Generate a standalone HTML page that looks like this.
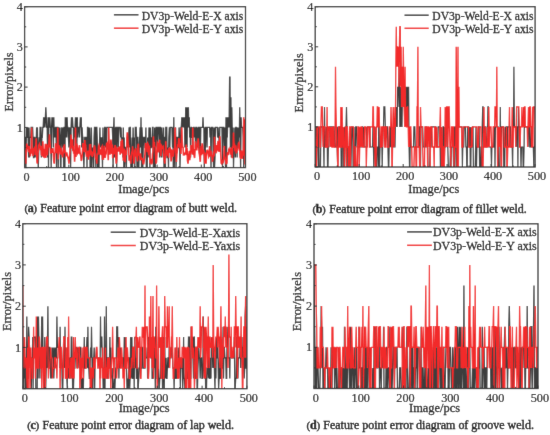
<!DOCTYPE html>
<html><head><meta charset="utf-8"><style>
html,body{margin:0;padding:0;background:#fff;width:550px;height:435px;overflow:hidden}
svg{display:block}
text{font-family:"Liberation Serif", "Times New Roman", serif;fill:#151515;stroke:#151515;stroke-width:0.28px}
.tk{font-size:12.2px;stroke-width:0.18px;fill:#111;stroke:#111}
.lg{font-size:11.7px}
.lgb{font-size:12.2px}
.lgd{font-size:12px}
.lab{font-size:12.4px}
.cap{font-size:12px;fill:#111;stroke:#111;stroke-width:0.4px}
</style></head><body>
<svg width="550" height="435" viewBox="0 0 550 435">
<filter id="soft" x="0" y="0" width="550" height="435" filterUnits="userSpaceOnUse"><feConvolveMatrix order="3" kernelMatrix="0.0049 0.0602 0.0049 0.0602 0.7396 0.0602 0.0049 0.0602 0.0049" divisor="1" edgeMode="duplicate" preserveAlpha="false"/></filter>
<g filter="url(#soft)"><rect width="550" height="435" fill="#fff"/>
<clipPath id="clipa"><rect x="24.6" y="5.7" width="220.9" height="161.9"/></clipPath>
<g clip-path="url(#clipa)" fill="none" stroke-linejoin="miter">
<polyline stroke="#3d3d3d" stroke-width="1.3" points="24.6,137.4 25.0,137.4 25.5,157.5 25.9,167.6 26.4,127.4 26.8,137.4 27.3,137.4 27.7,127.4 28.1,137.4 28.6,157.5 29.0,127.4 29.5,157.5 29.9,137.4 30.4,137.4 30.8,137.4 31.2,127.4 31.7,127.4 32.1,127.4 32.6,127.4 33.0,137.4 33.5,157.5 33.9,157.5 34.3,137.4 34.8,137.4 35.2,157.5 35.7,137.4 36.1,147.5 36.6,127.4 37.0,137.4 37.4,127.4 37.9,157.5 38.3,167.6 38.8,147.5 39.2,137.4 39.7,147.5 40.1,127.4 40.5,127.4 41.0,127.4 41.4,157.5 41.9,137.4 42.3,137.4 42.8,127.4 43.2,127.4 43.6,117.3 44.1,127.4 44.5,117.3 45.0,127.4 45.4,117.3 45.8,107.3 46.3,117.3 46.7,127.4 47.2,127.4 47.6,157.5 48.1,117.3 48.5,167.6 48.9,117.3 49.4,127.4 49.8,117.3 50.3,127.4 50.7,127.4 51.2,167.6 51.6,127.4 52.0,117.3 52.5,127.4 52.9,117.3 53.4,147.5 53.8,117.3 54.3,137.4 54.7,127.4 55.1,137.4 55.6,127.4 56.0,127.4 56.5,167.6 56.9,127.4 57.4,127.4 57.8,127.4 58.2,167.6 58.7,137.4 59.1,127.4 59.6,147.5 60.0,127.4 60.5,167.6 60.9,167.6 61.3,137.4 61.8,127.4 62.2,137.4 62.7,147.5 63.1,127.4 63.6,167.6 64.0,127.4 64.4,127.4 64.9,167.6 65.3,117.3 65.8,137.4 66.2,117.3 66.7,137.4 67.1,117.3 67.5,127.4 68.0,127.4 68.4,137.4 68.9,147.5 69.3,127.4 69.8,137.4 70.2,127.4 70.6,167.6 71.1,127.4 71.5,117.3 72.0,127.4 72.4,117.3 72.9,127.4 73.3,127.4 73.7,147.5 74.2,127.4 74.6,137.4 75.1,127.4 75.5,117.3 76.0,127.4 76.4,117.3 76.8,147.5 77.3,117.3 77.7,137.4 78.2,127.4 78.6,127.4 79.1,127.4 79.5,137.4 79.9,127.4 80.4,117.3 80.8,127.4 81.3,117.3 81.7,147.5 82.1,127.4 82.6,137.4 83.0,137.4 83.5,157.5 83.9,167.6 84.4,147.5 84.8,137.4 85.2,137.4 85.7,147.5 86.1,137.4 86.6,137.4 87.0,167.6 87.5,127.4 87.9,127.4 88.3,157.5 88.8,127.4 89.2,147.5 89.7,127.4 90.1,167.6 90.6,167.6 91.0,147.5 91.4,127.4 91.9,167.6 92.3,147.5 92.8,157.5 93.2,147.5 93.7,167.6 94.1,137.4 94.5,127.4 95.0,127.4 95.4,147.5 95.9,167.6 96.3,127.4 96.8,127.4 97.2,137.4 97.6,167.6 98.1,147.5 98.5,157.5 99.0,167.6 99.4,147.5 99.9,127.4 100.3,147.5 100.7,137.4 101.2,147.5 101.6,137.4 102.1,147.5 102.5,167.6 103.0,127.4 103.4,157.5 103.8,147.5 104.3,157.5 104.7,127.4 105.2,127.4 105.6,147.5 106.1,127.4 106.5,147.5 106.9,127.4 107.4,127.4 107.8,127.4 108.3,127.4 108.7,127.4 109.2,127.4 109.6,127.4 110.0,127.4 110.5,127.4 110.9,127.4 111.4,127.4 111.8,127.4 112.3,127.4 112.7,137.4 113.1,167.6 113.6,127.4 114.0,117.3 114.5,157.5 114.9,127.4 115.4,157.5 115.8,127.4 116.2,127.4 116.7,167.6 117.1,127.4 117.6,127.4 118.0,127.4 118.4,147.5 118.9,127.4 119.3,127.4 119.8,127.4 120.2,127.4 120.7,137.4 121.1,127.4 121.5,147.5 122.0,137.4 122.4,147.5 122.9,157.5 123.3,127.4 123.8,167.6 124.2,137.4 124.6,167.6 125.1,147.5 125.5,147.5 126.0,157.5 126.4,167.6 126.9,137.4 127.3,147.5 127.7,137.4 128.2,147.5 128.6,137.4 129.1,127.4 129.5,147.5 130.0,127.4 130.4,127.4 130.8,167.6 131.3,167.6 131.7,157.5 132.2,137.4 132.6,167.6 133.1,127.4 133.5,157.5 133.9,147.5 134.4,137.4 134.8,167.6 135.3,127.4 135.7,127.4 136.2,127.4 136.6,137.4 137.0,167.6 137.5,137.4 137.9,137.4 138.4,167.6 138.8,167.6 139.3,147.5 139.7,137.4 140.1,127.4 140.6,147.5 141.0,117.3 141.5,167.6 141.9,127.4 142.4,137.4 142.8,167.6 143.2,147.5 143.7,137.4 144.1,137.4 144.6,137.4 145.0,147.5 145.5,147.5 145.9,127.4 146.3,167.6 146.8,157.5 147.2,167.6 147.7,137.4 148.1,157.5 148.6,147.5 149.0,127.4 149.4,137.4 149.9,167.6 150.3,127.4 150.8,147.5 151.2,147.5 151.7,137.4 152.1,147.5 152.5,127.4 153.0,127.4 153.4,167.6 153.9,167.6 154.3,147.5 154.7,127.4 155.2,167.6 155.6,157.5 156.1,127.4 156.5,127.4 157.0,127.4 157.4,147.5 157.8,137.4 158.3,127.4 158.7,127.4 159.2,127.4 159.6,157.5 160.1,127.4 160.5,127.4 160.9,137.4 161.4,157.5 161.8,127.4 162.3,137.4 162.7,147.5 163.2,157.5 163.6,127.4 164.0,167.6 164.5,137.4 164.9,137.4 165.4,167.6 165.8,127.4 166.3,127.4 166.7,127.4 167.1,157.5 167.6,157.5 168.0,147.5 168.5,167.6 168.9,137.4 169.4,127.4 169.8,147.5 170.2,127.4 170.7,127.4 171.1,127.4 171.6,127.4 172.0,127.4 172.5,147.5 172.9,127.4 173.3,167.6 173.8,117.3 174.2,167.6 174.7,147.5 175.1,147.5 175.6,127.4 176.0,167.6 176.4,157.5 176.9,137.4 177.3,137.4 177.8,137.4 178.2,147.5 178.7,147.5 179.1,127.4 179.5,137.4 180.0,167.6 180.4,147.5 180.9,127.4 181.3,127.4 181.8,117.3 182.2,127.4 182.6,117.3 183.1,127.4 183.5,117.3 184.0,127.4 184.4,117.3 184.9,147.5 185.3,137.4 185.7,107.3 186.2,147.5 186.6,107.3 187.1,147.5 187.5,107.3 188.0,127.4 188.4,107.3 188.8,127.4 189.3,117.3 189.7,137.4 190.2,127.4 190.6,157.5 191.0,127.4 191.5,127.4 191.9,137.4 192.4,137.4 192.8,127.4 193.3,137.4 193.7,127.4 194.1,127.4 194.6,137.4 195.0,127.4 195.5,147.5 195.9,127.4 196.4,127.4 196.8,127.4 197.2,147.5 197.7,127.4 198.1,147.5 198.6,127.4 199.0,127.4 199.5,127.4 199.9,157.5 200.3,157.5 200.8,127.4 201.2,127.4 201.7,127.4 202.1,127.4 202.6,127.4 203.0,117.3 203.4,127.4 203.9,127.4 204.3,167.6 204.8,127.4 205.2,157.5 205.7,127.4 206.1,127.4 206.5,127.4 207.0,147.5 207.4,127.4 207.9,127.4 208.3,127.4 208.8,127.4 209.2,127.4 209.6,127.4 210.1,137.4 210.5,127.4 211.0,167.6 211.4,127.4 211.9,127.4 212.3,127.4 212.7,127.4 213.2,157.5 213.6,167.6 214.1,127.4 214.5,167.6 215.0,157.5 215.4,127.4 215.8,127.4 216.3,127.4 216.7,127.4 217.2,127.4 217.6,137.4 218.1,127.4 218.5,137.4 218.9,137.4 219.4,147.5 219.8,127.4 220.3,127.4 220.7,127.4 221.2,127.4 221.6,127.4 222.0,127.4 222.5,167.6 222.9,127.4 223.4,127.4 223.8,127.4 224.3,147.5 224.7,127.4 225.1,157.5 225.6,167.6 226.0,117.3 226.5,167.6 226.9,117.3 227.3,137.4 227.8,117.3 228.2,127.4 228.7,117.3 229.1,127.4 229.6,77.1 230.0,77.1 230.4,147.5 230.9,97.2 231.3,157.5 231.8,107.3 232.2,127.4 232.7,147.5 233.1,127.4 233.5,167.6 234.0,147.5 234.4,147.5 234.9,127.4 235.3,157.5 235.8,127.4 236.2,127.4 236.6,137.4 237.1,157.5 237.5,127.4 238.0,137.4 238.4,147.5 238.9,127.4 239.3,137.4 239.7,107.3 240.2,137.4 240.6,167.6 241.1,117.3 241.5,127.4 242.0,127.4 242.4,127.4 242.8,127.4 243.3,137.4 243.7,167.6 244.2,127.4 244.6,137.4 245.1,147.5 245.5,127.4"/>
<polyline stroke="#f22c2c" stroke-width="1.6" points="24.6,149.9 25.0,153.4 25.5,154.6 25.9,163.6 26.4,148.7 26.8,143.5 27.3,149.1 27.7,145.8 28.1,146.9 28.6,152.1 29.0,146.1 29.5,150.4 29.9,152.6 30.4,156.3 30.8,151.1 31.2,151.7 31.7,127.4 32.1,153.1 32.6,151.4 33.0,156.2 33.5,149.0 33.9,149.0 34.3,148.2 34.8,147.4 35.2,154.9 35.7,148.6 36.1,138.4 36.6,153.9 37.0,162.1 37.4,163.6 37.9,153.4 38.3,151.5 38.8,145.3 39.2,144.2 39.7,146.5 40.1,147.2 40.5,150.1 41.0,145.8 41.4,154.7 41.9,155.3 42.3,151.8 42.8,141.4 43.2,150.5 43.6,156.8 44.1,157.1 44.5,148.7 45.0,151.2 45.4,143.8 45.8,157.9 46.3,148.2 46.7,143.9 47.2,155.4 47.6,152.4 48.1,145.0 48.5,147.6 48.9,143.8 49.4,134.2 49.8,141.1 50.3,147.7 50.7,153.7 51.2,148.8 51.6,151.0 52.0,152.1 52.5,152.2 52.9,148.0 53.4,155.5 53.8,161.8 54.3,163.6 54.7,153.9 55.1,152.1 55.6,143.2 56.0,147.2 56.5,153.3 56.9,149.5 57.4,150.7 57.8,127.4 58.2,159.4 58.7,145.4 59.1,146.3 59.6,146.4 60.0,150.3 60.5,154.5 60.9,147.9 61.3,150.1 61.8,154.8 62.2,153.7 62.7,157.5 63.1,153.2 63.6,145.9 64.0,153.1 64.4,144.2 64.9,151.4 65.3,150.4 65.8,155.4 66.2,154.5 66.7,152.5 67.1,154.2 67.5,156.6 68.0,157.6 68.4,158.9 68.9,163.6 69.3,158.9 69.8,152.8 70.2,146.9 70.6,145.4 71.1,134.6 71.5,141.1 72.0,148.6 72.4,139.4 72.9,151.1 73.3,145.7 73.7,153.7 74.2,150.4 74.6,161.7 75.1,151.4 75.5,127.4 76.0,157.0 76.4,144.7 76.8,143.6 77.3,147.1 77.7,153.3 78.2,152.4 78.6,152.7 79.1,147.9 79.5,145.0 79.9,151.8 80.4,154.5 80.8,155.8 81.3,161.0 81.7,159.3 82.1,155.7 82.6,149.6 83.0,143.0 83.5,151.5 83.9,148.3 84.4,152.2 84.8,140.1 85.2,145.9 85.7,145.7 86.1,153.6 86.6,156.9 87.0,152.9 87.5,154.1 87.9,150.6 88.3,159.6 88.8,151.7 89.2,156.4 89.7,144.2 90.1,149.2 90.6,144.1 91.0,155.4 91.4,150.8 91.9,155.9 92.3,156.2 92.8,153.5 93.2,154.1 93.7,151.1 94.1,146.9 94.5,145.4 95.0,148.7 95.4,157.5 95.9,158.8 96.3,156.0 96.8,163.6 97.2,154.1 97.6,153.9 98.1,153.9 98.5,147.2 99.0,145.4 99.4,147.0 99.9,154.7 100.3,151.2 100.7,149.2 101.2,155.1 101.6,147.3 102.1,146.4 102.5,159.7 103.0,154.7 103.4,160.0 103.8,149.2 104.3,145.7 104.7,154.5 105.2,157.8 105.6,153.9 106.1,153.8 106.5,144.0 106.9,143.4 107.4,148.8 107.8,146.8 108.3,160.3 108.7,127.4 109.2,147.7 109.6,150.4 110.0,154.7 110.5,149.8 110.9,139.5 111.4,144.2 111.8,153.9 112.3,144.4 112.7,158.2 113.1,151.9 113.6,154.7 114.0,147.7 114.5,154.2 114.9,145.3 115.4,146.5 115.8,158.4 116.2,163.6 116.7,160.2 117.1,148.4 117.6,149.1 118.0,149.7 118.4,151.7 118.9,147.3 119.3,147.1 119.8,147.5 120.2,154.8 120.7,146.3 121.1,141.1 121.5,153.4 122.0,139.4 122.4,141.2 122.9,148.9 123.3,160.6 123.8,152.2 124.2,148.5 124.6,153.1 125.1,162.1 125.5,150.3 126.0,154.0 126.4,155.2 126.9,137.3 127.3,132.3 127.7,136.4 128.2,146.3 128.6,145.1 129.1,160.8 129.5,155.4 130.0,157.5 130.4,161.5 130.8,163.6 131.3,155.2 131.7,152.6 132.2,151.0 132.6,146.4 133.1,153.4 133.5,159.2 133.9,163.6 134.4,159.9 134.8,151.3 135.3,152.0 135.7,148.0 136.2,156.1 136.6,156.2 137.0,157.9 137.5,161.5 137.9,145.9 138.4,143.8 138.8,151.7 139.3,155.7 139.7,153.7 140.1,160.4 140.6,153.3 141.0,159.4 141.5,157.3 141.9,159.9 142.4,158.2 142.8,162.1 143.2,163.6 143.7,163.6 144.1,161.2 144.6,157.8 145.0,154.1 145.5,144.1 145.9,143.1 146.3,148.5 146.8,145.8 147.2,152.3 147.7,143.6 148.1,144.3 148.6,155.3 149.0,149.0 149.4,145.5 149.9,163.3 150.3,161.4 150.8,158.9 151.2,163.6 151.7,163.6 152.1,163.0 152.5,154.2 153.0,151.0 153.4,136.4 153.9,146.0 154.3,142.1 154.7,146.2 155.2,147.1 155.6,155.6 156.1,163.6 156.5,161.8 157.0,152.2 157.4,142.8 157.8,143.6 158.3,144.6 158.7,152.5 159.2,143.3 159.6,139.7 160.1,148.4 160.5,150.0 160.9,156.1 161.4,145.4 161.8,146.0 162.3,149.1 162.7,147.8 163.2,147.0 163.6,151.4 164.0,158.2 164.5,161.8 164.9,163.6 165.4,156.1 165.8,141.2 166.3,155.6 166.7,152.6 167.1,149.6 167.6,155.8 168.0,152.3 168.5,157.8 168.9,147.8 169.4,152.8 169.8,151.4 170.2,147.4 170.7,151.7 171.1,161.4 171.6,159.2 172.0,150.9 172.5,151.5 172.9,150.0 173.3,156.6 173.8,153.0 174.2,148.0 174.7,149.4 175.1,127.4 175.6,146.5 176.0,154.6 176.4,161.9 176.9,150.1 177.3,150.9 177.8,145.4 178.2,145.7 178.7,139.3 179.1,138.2 179.5,146.7 180.0,147.4 180.4,143.2 180.9,154.0 181.3,144.5 181.8,127.4 182.2,140.6 182.6,147.0 183.1,147.4 183.5,155.5 184.0,153.0 184.4,155.3 184.9,152.7 185.3,154.7 185.7,151.3 186.2,144.6 186.6,155.2 187.1,148.0 187.5,160.6 188.0,163.6 188.4,160.2 188.8,155.6 189.3,150.9 189.7,160.2 190.2,156.0 190.6,152.8 191.0,145.0 191.5,148.6 191.9,146.9 192.4,154.5 192.8,127.4 193.3,155.0 193.7,149.1 194.1,155.6 194.6,158.0 195.0,151.4 195.5,141.3 195.9,144.0 196.4,145.9 196.8,150.4 197.2,144.7 197.7,144.9 198.1,138.3 198.6,142.9 199.0,152.3 199.5,154.9 199.9,158.5 200.3,161.8 200.8,149.4 201.2,145.8 201.7,155.3 202.1,143.3 202.6,145.8 203.0,153.8 203.4,150.3 203.9,151.1 204.3,155.4 204.8,163.6 205.2,157.4 205.7,152.6 206.1,163.6 206.5,155.6 207.0,149.9 207.4,153.1 207.9,151.5 208.3,152.9 208.8,156.7 209.2,155.9 209.6,146.0 210.1,156.6 210.5,152.5 211.0,150.8 211.4,154.9 211.9,155.5 212.3,161.1 212.7,160.8 213.2,155.9 213.6,151.7 214.1,156.4 214.5,136.7 215.0,147.1 215.4,148.4 215.8,151.0 216.3,153.3 216.7,145.0 217.2,150.7 217.6,143.5 218.1,140.9 218.5,151.8 218.9,145.7 219.4,152.0 219.8,136.3 220.3,145.9 220.7,153.7 221.2,163.1 221.6,163.6 222.0,160.9 222.5,161.6 222.9,163.2 223.4,161.0 223.8,157.2 224.3,146.1 224.7,158.1 225.1,157.7 225.6,159.7 226.0,163.6 226.5,163.6 226.9,162.9 227.3,153.0 227.8,153.1 228.2,155.1 228.7,149.7 229.1,148.8 229.6,151.2 230.0,149.0 230.4,154.7 230.9,149.4 231.3,147.7 231.8,151.7 232.2,158.2 232.7,146.2 233.1,148.1 233.5,132.6 234.0,145.5 234.4,143.5 234.9,149.7 235.3,149.0 235.8,145.4 236.2,152.7 236.6,152.5 237.1,150.9 237.5,150.4 238.0,147.4 238.4,143.5 238.9,142.7 239.3,145.4 239.7,150.2 240.2,157.0 240.6,158.1 241.1,157.6 241.5,150.5 242.0,152.8 242.4,158.9 242.8,151.5 243.3,155.8 243.7,117.3 244.2,155.7 244.6,119.3 245.1,163.6 245.5,163.6"/>
</g>
<rect x="24.6" y="6.7" width="220.9" height="160.9" fill="none" stroke="#333" stroke-width="1.3"/>
<path d="M24.6,167.6h3M24.6,147.5h1.6M24.6,127.4h3M24.6,107.3h1.6M24.6,87.1h3M24.6,67.0h1.6M24.6,46.9h3M24.6,26.8h1.6M24.6,6.7h3M24.6,167.6v-3M46.7,167.6v-1.6M68.8,167.6v-3M90.9,167.6v-1.6M113.0,167.6v-3M135.1,167.6v-1.6M157.1,167.6v-3M179.2,167.6v-1.6M201.3,167.6v-3M223.4,167.6v-1.6M245.5,167.6v-3" stroke="#333" stroke-width="1" fill="none"/>
<text x="22.8" y="131.5" text-anchor="end" class="tk">1</text>
<text x="22.8" y="91.2" text-anchor="end" class="tk">2</text>
<text x="22.8" y="51.0" text-anchor="end" class="tk">3</text>
<text x="22.8" y="10.8" text-anchor="end" class="tk">4</text>
<text x="26.5" y="180.9" text-anchor="middle" class="tk">0</text>
<text x="70.7" y="180.9" text-anchor="middle" class="tk">100</text>
<text x="114.9" y="180.9" text-anchor="middle" class="tk">200</text>
<text x="159.0" y="180.9" text-anchor="middle" class="tk">300</text>
<text x="203.2" y="180.9" text-anchor="middle" class="tk">400</text>
<text x="247.4" y="180.9" text-anchor="middle" class="tk">500</text>
<path d="M113.9,14.8H138.5" stroke="#3d3d3d" stroke-width="1.5"/>
<path d="M113.9,28.2H138.5" stroke="#f22c2c" stroke-width="1.5"/>
<text x="141.7" y="19.5" class="lg" textLength="101.6" lengthAdjust="spacingAndGlyphs">DV3p-Weld-E-X axis</text>
<text x="141.7" y="32.9" class="lg" textLength="101.6" lengthAdjust="spacingAndGlyphs">DV3p-Weld-E-Y axis</text>
<text transform="translate(13.2,81.9) rotate(-90)" text-anchor="middle" class="lab">Error/pixels</text>
<text x="143.8" y="193.2" text-anchor="middle" class="lab">Image/pcs</text>
<clipPath id="clipb"><rect x="315.2" y="5.7" width="219.90000000000003" height="161.3"/></clipPath>
<g clip-path="url(#clipb)" fill="none" stroke-linejoin="miter">
<polyline stroke="#3d3d3d" stroke-width="1.2" points="315.2,167.0 315.6,167.0 316.1,126.9 316.5,126.9 317.0,126.9 317.4,147.0 317.8,147.0 318.3,167.0 318.7,126.9 319.2,167.0 319.6,167.0 320.0,167.0 320.5,167.0 320.9,126.9 321.4,126.9 321.8,126.9 322.3,126.9 322.7,126.9 323.1,126.9 323.6,147.0 324.0,167.0 324.5,106.9 324.9,147.0 325.3,147.0 325.8,147.0 326.2,126.9 326.7,147.0 327.1,126.9 327.5,167.0 328.0,167.0 328.4,147.0 328.9,147.0 329.3,126.9 329.7,126.9 330.2,126.9 330.6,126.9 331.1,147.0 331.5,126.9 331.9,126.9 332.4,147.0 332.8,126.9 333.3,126.9 333.7,126.9 334.1,126.9 334.6,147.0 335.0,147.0 335.5,147.0 335.9,147.0 336.4,126.9 336.8,126.9 337.2,147.0 337.7,167.0 338.1,126.9 338.6,147.0 339.0,126.9 339.4,126.9 339.9,126.9 340.3,147.0 340.8,126.9 341.2,167.0 341.6,167.0 342.1,167.0 342.5,126.9 343.0,147.0 343.4,126.9 343.8,167.0 344.3,126.9 344.7,167.0 345.2,126.9 345.6,126.9 346.0,126.9 346.5,106.9 346.9,126.9 347.4,126.9 347.8,167.0 348.3,147.0 348.7,147.0 349.1,167.0 349.6,167.0 350.0,167.0 350.5,167.0 350.9,167.0 351.3,147.0 351.8,126.9 352.2,126.9 352.7,126.9 353.1,167.0 353.5,147.0 354.0,126.9 354.4,167.0 354.9,167.0 355.3,167.0 355.7,126.9 356.2,126.9 356.6,126.9 357.1,147.0 357.5,147.0 357.9,147.0 358.4,147.0 358.8,147.0 359.3,147.0 359.7,147.0 360.1,147.0 360.6,147.0 361.0,147.0 361.5,147.0 361.9,147.0 362.4,126.9 362.8,126.9 363.2,147.0 363.7,126.9 364.1,147.0 364.6,147.0 365.0,147.0 365.4,147.0 365.9,147.0 366.3,147.0 366.8,126.9 367.2,147.0 367.6,126.9 368.1,126.9 368.5,126.9 369.0,126.9 369.4,126.9 369.8,126.9 370.3,147.0 370.7,147.0 371.2,147.0 371.6,147.0 372.0,147.0 372.5,147.0 372.9,126.9 373.4,147.0 373.8,167.0 374.3,147.0 374.7,147.0 375.1,126.9 375.6,167.0 376.0,167.0 376.5,167.0 376.9,147.0 377.3,147.0 377.8,147.0 378.2,167.0 378.7,126.9 379.1,126.9 379.5,167.0 380.0,147.0 380.4,147.0 380.9,147.0 381.3,147.0 381.7,126.9 382.2,167.0 382.6,147.0 383.1,126.9 383.5,126.9 383.9,106.9 384.4,106.9 384.8,106.9 385.3,126.9 385.7,126.9 386.1,126.9 386.6,126.9 387.0,126.9 387.5,126.9 387.9,147.0 388.4,167.0 388.8,167.0 389.2,147.0 389.7,126.9 390.1,147.0 390.6,126.9 391.0,147.0 391.4,147.0 391.9,126.9 392.3,147.0 392.8,147.0 393.2,147.0 393.6,147.0 394.1,126.9 394.5,147.0 395.0,147.0 395.4,126.9 395.8,106.9 396.3,126.9 396.7,106.9 397.2,126.9 397.6,86.8 398.0,106.9 398.5,86.8 398.9,66.8 399.4,86.8 399.8,126.9 400.3,86.8 400.7,126.9 401.1,106.9 401.6,86.8 402.0,126.9 402.5,86.8 402.9,66.8 403.3,86.8 403.8,106.9 404.2,86.8 404.7,126.9 405.1,86.8 405.5,126.9 406.0,86.8 406.4,126.9 406.9,86.8 407.3,106.9 407.7,86.8 408.2,126.9 408.6,86.8 409.1,147.0 409.5,167.0 409.9,167.0 410.4,126.9 410.8,147.0 411.3,147.0 411.7,147.0 412.1,147.0 412.6,147.0 413.0,147.0 413.5,147.0 413.9,126.9 414.4,126.9 414.8,126.9 415.2,147.0 415.7,147.0 416.1,147.0 416.6,147.0 417.0,147.0 417.4,147.0 417.9,147.0 418.3,147.0 418.8,147.0 419.2,126.9 419.6,126.9 420.1,167.0 420.5,167.0 421.0,126.9 421.4,126.9 421.8,126.9 422.3,126.9 422.7,126.9 423.2,147.0 423.6,147.0 424.0,147.0 424.5,147.0 424.9,147.0 425.4,147.0 425.8,126.9 426.3,126.9 426.7,147.0 427.1,147.0 427.6,147.0 428.0,167.0 428.5,167.0 428.9,167.0 429.3,167.0 429.8,167.0 430.2,147.0 430.7,147.0 431.1,147.0 431.5,126.9 432.0,126.9 432.4,126.9 432.9,126.9 433.3,126.9 433.7,126.9 434.2,126.9 434.6,126.9 435.1,126.9 435.5,126.9 435.9,126.9 436.4,147.0 436.8,147.0 437.3,147.0 437.7,147.0 438.2,126.9 438.6,126.9 439.0,126.9 439.5,126.9 439.9,126.9 440.4,167.0 440.8,167.0 441.2,126.9 441.7,147.0 442.1,147.0 442.6,147.0 443.0,126.9 443.4,126.9 443.9,167.0 444.3,167.0 444.8,126.9 445.2,147.0 445.6,147.0 446.1,126.9 446.5,126.9 447.0,126.9 447.4,147.0 447.8,147.0 448.3,167.0 448.7,167.0 449.2,167.0 449.6,167.0 450.0,167.0 450.5,147.0 450.9,167.0 451.4,147.0 451.8,147.0 452.3,147.0 452.7,147.0 453.1,147.0 453.6,167.0 454.0,126.9 454.5,167.0 454.9,126.9 455.3,126.9 455.8,126.9 456.2,167.0 456.7,147.0 457.1,147.0 457.5,126.9 458.0,126.9 458.4,126.9 458.9,126.9 459.3,126.9 459.7,126.9 460.2,126.9 460.6,126.9 461.1,126.9 461.5,126.9 461.9,126.9 462.4,167.0 462.8,147.0 463.3,147.0 463.7,147.0 464.2,126.9 464.6,126.9 465.0,126.9 465.5,126.9 465.9,147.0 466.4,147.0 466.8,167.0 467.2,167.0 467.7,126.9 468.1,126.9 468.6,126.9 469.0,147.0 469.4,147.0 469.9,126.9 470.3,167.0 470.8,167.0 471.2,126.9 471.6,147.0 472.1,147.0 472.5,126.9 473.0,126.9 473.4,167.0 473.8,167.0 474.3,167.0 474.7,167.0 475.2,167.0 475.6,147.0 476.0,126.9 476.5,167.0 476.9,147.0 477.4,147.0 477.8,147.0 478.3,126.9 478.7,126.9 479.1,126.9 479.6,167.0 480.0,167.0 480.5,167.0 480.9,147.0 481.3,147.0 481.8,167.0 482.2,126.9 482.7,106.9 483.1,106.9 483.5,147.0 484.0,147.0 484.4,126.9 484.9,126.9 485.3,126.9 485.7,147.0 486.2,147.0 486.6,147.0 487.1,126.9 487.5,126.9 487.9,106.9 488.4,106.9 488.8,147.0 489.3,147.0 489.7,147.0 490.2,147.0 490.6,147.0 491.0,147.0 491.5,167.0 491.9,147.0 492.4,147.0 492.8,147.0 493.2,147.0 493.7,147.0 494.1,126.9 494.6,126.9 495.0,167.0 495.4,126.9 495.9,126.9 496.3,126.9 496.8,126.9 497.2,126.9 497.6,126.9 498.1,126.9 498.5,167.0 499.0,167.0 499.4,167.0 499.8,167.0 500.3,106.9 500.7,147.0 501.2,147.0 501.6,126.9 502.0,126.9 502.5,126.9 502.9,126.9 503.4,126.9 503.8,167.0 504.3,167.0 504.7,167.0 505.1,126.9 505.6,147.0 506.0,126.9 506.5,126.9 506.9,126.9 507.3,147.0 507.8,126.9 508.2,126.9 508.7,126.9 509.1,126.9 509.5,126.9 510.0,126.9 510.4,126.9 510.9,147.0 511.3,147.0 511.7,147.0 512.2,147.0 512.6,167.0 513.1,126.9 513.5,126.9 513.9,66.8 514.4,126.9 514.8,126.9 515.3,126.9 515.7,126.9 516.2,147.0 516.6,126.9 517.0,126.9 517.5,126.9 517.9,167.0 518.4,106.9 518.8,126.9 519.2,126.9 519.7,126.9 520.1,147.0 520.6,147.0 521.0,167.0 521.4,147.0 521.9,147.0 522.3,147.0 522.8,147.0 523.2,167.0 523.6,167.0 524.1,147.0 524.5,106.9 525.0,126.9 525.4,126.9 525.8,126.9 526.3,126.9 526.7,126.9 527.2,126.9 527.6,126.9 528.0,147.0 528.5,126.9 528.9,126.9 529.4,126.9 529.8,147.0 530.3,147.0 530.7,147.0 531.1,126.9 531.6,126.9 532.0,126.9 532.5,147.0 532.9,147.0 533.3,147.0 533.8,167.0 534.2,147.0 534.7,147.0 535.1,126.9"/>
<polyline stroke="#f22c2c" stroke-width="1.3" points="315.2,126.9 315.6,147.0 316.1,147.0 316.5,167.0 317.0,126.9 317.4,147.0 317.8,126.9 318.3,126.9 318.7,126.9 319.2,126.9 319.6,126.9 320.0,147.0 320.5,147.0 320.9,126.9 321.4,106.9 321.8,106.9 322.3,106.9 322.7,126.9 323.1,147.0 323.6,126.9 324.0,126.9 324.5,126.9 324.9,126.9 325.3,147.0 325.8,147.0 326.2,147.0 326.7,147.0 327.1,106.9 327.5,147.0 328.0,147.0 328.4,126.9 328.9,126.9 329.3,126.9 329.7,126.9 330.2,147.0 330.6,126.9 331.1,147.0 331.5,126.9 331.9,147.0 332.4,147.0 332.8,126.9 333.3,126.9 333.7,147.0 334.1,147.0 334.6,147.0 335.0,147.0 335.5,66.8 335.9,106.9 336.4,126.9 336.8,147.0 337.2,147.0 337.7,167.0 338.1,167.0 338.6,126.9 339.0,126.9 339.4,147.0 339.9,147.0 340.3,147.0 340.8,106.9 341.2,147.0 341.6,147.0 342.1,106.9 342.5,126.9 343.0,147.0 343.4,147.0 343.8,126.9 344.3,167.0 344.7,147.0 345.2,147.0 345.6,126.9 346.0,126.9 346.5,167.0 346.9,126.9 347.4,126.9 347.8,147.0 348.3,147.0 348.7,167.0 349.1,167.0 349.6,126.9 350.0,126.9 350.5,167.0 350.9,126.9 351.3,126.9 351.8,126.9 352.2,126.9 352.7,126.9 353.1,126.9 353.5,126.9 354.0,167.0 354.4,167.0 354.9,167.0 355.3,147.0 355.7,147.0 356.2,167.0 356.6,167.0 357.1,167.0 357.5,167.0 357.9,126.9 358.4,126.9 358.8,126.9 359.3,167.0 359.7,147.0 360.1,126.9 360.6,147.0 361.0,126.9 361.5,126.9 361.9,147.0 362.4,126.9 362.8,147.0 363.2,147.0 363.7,147.0 364.1,147.0 364.6,126.9 365.0,126.9 365.4,126.9 365.9,126.9 366.3,167.0 366.8,147.0 367.2,147.0 367.6,126.9 368.1,126.9 368.5,126.9 369.0,126.9 369.4,147.0 369.8,147.0 370.3,126.9 370.7,126.9 371.2,126.9 371.6,126.9 372.0,126.9 372.5,126.9 372.9,106.9 373.4,106.9 373.8,147.0 374.3,126.9 374.7,126.9 375.1,167.0 375.6,167.0 376.0,167.0 376.5,126.9 376.9,126.9 377.3,106.9 377.8,106.9 378.2,126.9 378.7,126.9 379.1,106.9 379.5,126.9 380.0,126.9 380.4,147.0 380.9,147.0 381.3,147.0 381.7,126.9 382.2,126.9 382.6,147.0 383.1,126.9 383.5,126.9 383.9,126.9 384.4,126.9 384.8,147.0 385.3,147.0 385.7,126.9 386.1,126.9 386.6,126.9 387.0,147.0 387.5,147.0 387.9,147.0 388.4,147.0 388.8,147.0 389.2,126.9 389.7,126.9 390.1,126.9 390.6,126.9 391.0,106.9 391.4,126.9 391.9,167.0 392.3,167.0 392.8,126.9 393.2,106.9 393.6,126.9 394.1,147.0 394.5,126.9 395.0,106.9 395.4,126.9 395.8,66.8 396.3,26.7 396.7,66.8 397.2,46.8 397.6,46.8 398.0,66.8 398.5,46.8 398.9,86.8 399.4,46.8 399.8,26.7 400.3,26.7 400.7,86.8 401.1,46.8 401.6,106.9 402.0,86.8 402.5,66.8 402.9,106.9 403.3,46.8 403.8,86.8 404.2,106.9 404.7,126.9 405.1,66.8 405.5,126.9 406.0,106.9 406.4,126.9 406.9,126.9 407.3,106.9 407.7,106.9 408.2,126.9 408.6,147.0 409.1,126.9 409.5,147.0 409.9,126.9 410.4,126.9 410.8,126.9 411.3,147.0 411.7,147.0 412.1,167.0 412.6,167.0 413.0,167.0 413.5,167.0 413.9,167.0 414.4,147.0 414.8,147.0 415.2,147.0 415.7,147.0 416.1,167.0 416.6,167.0 417.0,106.9 417.4,106.9 417.9,46.8 418.3,147.0 418.8,147.0 419.2,147.0 419.6,167.0 420.1,167.0 420.5,106.9 421.0,126.9 421.4,126.9 421.8,126.9 422.3,126.9 422.7,147.0 423.2,167.0 423.6,167.0 424.0,167.0 424.5,167.0 424.9,126.9 425.4,126.9 425.8,126.9 426.3,147.0 426.7,126.9 427.1,126.9 427.6,167.0 428.0,126.9 428.5,126.9 428.9,126.9 429.3,147.0 429.8,126.9 430.2,167.0 430.7,126.9 431.1,126.9 431.5,126.9 432.0,126.9 432.4,147.0 432.9,147.0 433.3,147.0 433.7,147.0 434.2,167.0 434.6,126.9 435.1,126.9 435.5,126.9 435.9,147.0 436.4,147.0 436.8,126.9 437.3,147.0 437.7,147.0 438.2,147.0 438.6,147.0 439.0,147.0 439.5,147.0 439.9,126.9 440.4,106.9 440.8,147.0 441.2,147.0 441.7,167.0 442.1,126.9 442.6,167.0 443.0,147.0 443.4,147.0 443.9,167.0 444.3,167.0 444.8,147.0 445.2,106.9 445.6,126.9 446.1,147.0 446.5,106.9 447.0,106.9 447.4,106.9 447.8,147.0 448.3,126.9 448.7,106.9 449.2,106.9 449.6,126.9 450.0,147.0 450.5,147.0 450.9,167.0 451.4,126.9 451.8,126.9 452.3,126.9 452.7,147.0 453.1,126.9 453.6,126.9 454.0,167.0 454.5,147.0 454.9,147.0 455.3,147.0 455.8,147.0 456.2,46.8 456.7,126.9 457.1,167.0 457.5,147.0 458.0,46.8 458.4,167.0 458.9,86.8 459.3,126.9 459.7,126.9 460.2,126.9 460.6,126.9 461.1,126.9 461.5,126.9 461.9,147.0 462.4,147.0 462.8,147.0 463.3,126.9 463.7,126.9 464.2,126.9 464.6,126.9 465.0,126.9 465.5,126.9 465.9,126.9 466.4,126.9 466.8,126.9 467.2,126.9 467.7,126.9 468.1,126.9 468.6,126.9 469.0,147.0 469.4,147.0 469.9,147.0 470.3,147.0 470.8,147.0 471.2,147.0 471.6,126.9 472.1,147.0 472.5,126.9 473.0,126.9 473.4,126.9 473.8,126.9 474.3,126.9 474.7,126.9 475.2,126.9 475.6,126.9 476.0,126.9 476.5,126.9 476.9,126.9 477.4,147.0 477.8,147.0 478.3,147.0 478.7,126.9 479.1,126.9 479.6,126.9 480.0,126.9 480.5,126.9 480.9,126.9 481.3,147.0 481.8,147.0 482.2,167.0 482.7,167.0 483.1,167.0 483.5,147.0 484.0,106.9 484.4,147.0 484.9,147.0 485.3,147.0 485.7,126.9 486.2,147.0 486.6,147.0 487.1,147.0 487.5,147.0 487.9,126.9 488.4,147.0 488.8,106.9 489.3,147.0 489.7,126.9 490.2,126.9 490.6,126.9 491.0,126.9 491.5,147.0 491.9,147.0 492.4,147.0 492.8,147.0 493.2,126.9 493.7,126.9 494.1,126.9 494.6,126.9 495.0,106.9 495.4,106.9 495.9,106.9 496.3,126.9 496.8,66.8 497.2,126.9 497.6,167.0 498.1,147.0 498.5,126.9 499.0,147.0 499.4,126.9 499.8,147.0 500.3,126.9 500.7,147.0 501.2,167.0 501.6,167.0 502.0,126.9 502.5,126.9 502.9,126.9 503.4,126.9 503.8,126.9 504.3,147.0 504.7,147.0 505.1,147.0 505.6,147.0 506.0,147.0 506.5,126.9 506.9,167.0 507.3,167.0 507.8,147.0 508.2,147.0 508.7,147.0 509.1,126.9 509.5,106.9 510.0,147.0 510.4,147.0 510.9,147.0 511.3,147.0 511.7,147.0 512.2,106.9 512.6,147.0 513.1,147.0 513.5,126.9 513.9,126.9 514.4,126.9 514.8,126.9 515.3,126.9 515.7,147.0 516.2,126.9 516.6,106.9 517.0,106.9 517.5,106.9 517.9,106.9 518.4,106.9 518.8,106.9 519.2,126.9 519.7,147.0 520.1,147.0 520.6,126.9 521.0,126.9 521.4,126.9 521.9,106.9 522.3,126.9 522.8,126.9 523.2,126.9 523.6,106.9 524.1,126.9 524.5,106.9 525.0,106.9 525.4,126.9 525.8,126.9 526.3,126.9 526.7,126.9 527.2,126.9 527.6,147.0 528.0,126.9 528.5,106.9 528.9,126.9 529.4,126.9 529.8,106.9 530.3,106.9 530.7,126.9 531.1,126.9 531.6,147.0 532.0,147.0 532.5,106.9 532.9,147.0 533.3,106.9 533.8,106.9 534.2,106.9 534.7,106.9 535.1,126.9"/>
</g>
<rect x="315.2" y="6.7" width="219.9" height="160.3" fill="none" stroke="#333" stroke-width="1.3"/>
<path d="M315.2,167.0h3M315.2,147.0h1.6M315.2,126.9h3M315.2,106.9h1.6M315.2,86.8h3M315.2,66.8h1.6M315.2,46.8h3M315.2,26.7h1.6M315.2,6.7h3M315.2,167.0v-3M337.2,167.0v-1.6M359.2,167.0v-3M381.2,167.0v-1.6M403.2,167.0v-3M425.1,167.0v-1.6M447.1,167.0v-3M469.1,167.0v-1.6M491.1,167.0v-3M513.1,167.0v-1.6M535.1,167.0v-3" stroke="#333" stroke-width="1" fill="none"/>
<text x="313.4" y="131.0" text-anchor="end" class="tk">1</text>
<text x="313.4" y="90.9" text-anchor="end" class="tk">2</text>
<text x="313.4" y="50.9" text-anchor="end" class="tk">3</text>
<text x="313.4" y="10.8" text-anchor="end" class="tk">4</text>
<text x="317.1" y="180.2" text-anchor="middle" class="tk">0</text>
<text x="361.1" y="180.2" text-anchor="middle" class="tk">100</text>
<text x="405.1" y="180.2" text-anchor="middle" class="tk">200</text>
<text x="449.0" y="180.2" text-anchor="middle" class="tk">300</text>
<text x="493.0" y="180.2" text-anchor="middle" class="tk">400</text>
<text x="537.0" y="180.2" text-anchor="middle" class="tk">500</text>
<path d="M404.5,15.2H428.7" stroke="#3d3d3d" stroke-width="1.5"/>
<path d="M404.5,28.3H428.7" stroke="#f22c2c" stroke-width="1.5"/>
<text x="432.3" y="19.8" class="lg" textLength="101.2" lengthAdjust="spacingAndGlyphs">DV3p-Weld-E-X axis</text>
<text x="432.3" y="32.9" class="lg" textLength="101.2" lengthAdjust="spacingAndGlyphs">DV3p-Weld-E-Y axis</text>
<text transform="translate(302.8,82.8) rotate(-90)" text-anchor="middle" class="lab">Error/pixels</text>
<text x="433.8" y="192.7" text-anchor="middle" class="lab">Image/pcs</text>
<clipPath id="clipc"><rect x="22.8" y="222.7" width="224.1" height="166.0"/></clipPath>
<g clip-path="url(#clipc)" fill="none" stroke-linejoin="miter">
<polyline stroke="#3d3d3d" stroke-width="1.25" points="22.8,347.4 23.2,388.7 23.7,347.4 24.1,378.4 24.6,347.4 25.0,388.7 25.5,357.8 25.9,388.7 26.4,388.7 26.8,316.5 27.3,357.8 27.7,378.4 28.2,378.4 28.6,326.8 29.1,337.1 29.5,347.4 30.0,368.1 30.4,357.8 30.9,357.8 31.3,388.7 31.8,357.8 32.2,368.1 32.7,337.1 33.1,388.7 33.6,347.4 34.0,337.1 34.5,337.1 34.9,337.1 35.4,337.1 35.8,388.7 36.3,388.7 36.7,388.7 37.2,388.7 37.6,316.5 38.1,378.4 38.5,316.5 39.0,347.4 39.4,347.4 39.9,378.4 40.3,347.4 40.8,357.8 41.2,357.8 41.7,316.5 42.1,368.1 42.6,316.5 43.0,357.8 43.5,357.8 43.9,378.4 44.4,388.7 44.8,337.1 45.3,388.7 45.7,388.7 46.2,368.1 46.6,337.1 47.1,368.1 47.5,337.1 47.9,306.2 48.4,368.1 48.8,368.1 49.3,347.4 49.7,347.4 50.2,357.8 50.6,378.4 51.1,357.8 51.5,378.4 52.0,347.4 52.4,357.8 52.9,357.8 53.3,347.4 53.8,378.4 54.2,368.1 54.7,347.4 55.1,368.1 55.6,347.4 56.0,357.8 56.5,357.8 56.9,316.5 57.4,347.4 57.8,347.4 58.3,347.4 58.7,347.4 59.2,347.4 59.6,368.1 60.1,326.8 60.5,357.8 61.0,357.8 61.4,357.8 61.9,368.1 62.3,388.7 62.8,388.7 63.2,357.8 63.7,337.1 64.1,337.1 64.6,368.1 65.0,326.8 65.5,378.4 65.9,347.4 66.4,378.4 66.8,378.4 67.3,388.7 67.7,347.4 68.2,347.4 68.6,378.4 69.1,357.8 69.5,368.1 70.0,357.8 70.4,357.8 70.9,378.4 71.3,337.1 71.8,337.1 72.2,357.8 72.6,388.7 73.1,388.7 73.5,388.7 74.0,368.1 74.4,368.1 74.9,368.1 75.3,357.8 75.8,357.8 76.2,347.4 76.7,347.4 77.1,368.1 77.6,347.4 78.0,368.1 78.5,357.8 78.9,347.4 79.4,357.8 79.8,347.4 80.3,347.4 80.7,347.4 81.2,388.7 81.6,388.7 82.1,378.4 82.5,378.4 83.0,388.7 83.4,388.7 83.9,357.8 84.3,337.1 84.8,368.1 85.2,368.1 85.7,368.1 86.1,347.4 86.6,347.4 87.0,337.1 87.5,368.1 87.9,326.8 88.4,368.1 88.8,368.1 89.3,378.4 89.7,378.4 90.2,357.8 90.6,347.4 91.1,357.8 91.5,326.8 92.0,357.8 92.4,388.7 92.9,388.7 93.3,357.8 93.8,357.8 94.2,347.4 94.7,388.7 95.1,357.8 95.6,357.8 96.0,357.8 96.5,347.4 96.9,357.8 97.4,357.8 97.8,357.8 98.2,357.8 98.7,357.8 99.1,357.8 99.6,357.8 100.0,378.4 100.5,316.5 100.9,347.4 101.4,337.1 101.8,337.1 102.3,357.8 102.7,368.1 103.2,388.7 103.6,388.7 104.1,388.7 104.5,316.5 105.0,388.7 105.4,347.4 105.9,368.1 106.3,306.2 106.8,378.4 107.2,378.4 107.7,357.8 108.1,357.8 108.6,357.8 109.0,368.1 109.5,357.8 109.9,337.1 110.4,378.4 110.8,347.4 111.3,368.1 111.7,378.4 112.2,368.1 112.6,388.7 113.1,388.7 113.5,388.7 114.0,378.4 114.4,388.7 114.9,388.7 115.3,378.4 115.8,368.1 116.2,368.1 116.7,326.8 117.1,326.8 117.6,326.8 118.0,357.8 118.5,337.1 118.9,378.4 119.4,347.4 119.8,368.1 120.3,347.4 120.7,368.1 121.2,357.8 121.6,357.8 122.1,357.8 122.5,357.8 122.9,357.8 123.4,357.8 123.8,368.1 124.3,337.1 124.7,368.1 125.2,337.1 125.6,368.1 126.1,368.1 126.5,368.1 127.0,388.7 127.4,388.7 127.9,378.4 128.3,388.7 128.8,357.8 129.2,357.8 129.7,388.7 130.1,378.4 130.6,337.1 131.0,378.4 131.5,368.1 131.9,337.1 132.4,378.4 132.8,378.4 133.3,347.4 133.7,347.4 134.2,388.7 134.6,337.1 135.1,347.4 135.5,368.1 136.0,357.8 136.4,378.4 136.9,378.4 137.3,337.1 137.8,388.7 138.2,388.7 138.7,378.4 139.1,368.1 139.6,368.1 140.0,347.4 140.5,378.4 140.9,368.1 141.4,368.1 141.8,368.1 142.3,347.4 142.7,347.4 143.2,368.1 143.6,368.1 144.1,368.1 144.5,368.1 145.0,368.1 145.4,357.8 145.9,357.8 146.3,357.8 146.8,357.8 147.2,347.4 147.6,378.4 148.1,368.1 148.5,337.1 149.0,357.8 149.4,337.1 149.9,337.1 150.3,347.4 150.8,357.8 151.2,357.8 151.7,337.1 152.1,378.4 152.6,378.4 153.0,378.4 153.5,368.1 153.9,347.4 154.4,368.1 154.8,347.4 155.3,388.7 155.7,326.8 156.2,337.1 156.6,337.1 157.1,378.4 157.5,378.4 158.0,378.4 158.4,368.1 158.9,388.7 159.3,388.7 159.8,378.4 160.2,378.4 160.7,347.4 161.1,378.4 161.6,347.4 162.0,347.4 162.5,388.7 162.9,388.7 163.4,337.1 163.8,347.4 164.3,388.7 164.7,337.1 165.2,378.4 165.6,368.1 166.1,357.8 166.5,378.4 167.0,378.4 167.4,368.1 167.9,357.8 168.3,357.8 168.8,368.1 169.2,347.4 169.7,347.4 170.1,357.8 170.6,357.8 171.0,357.8 171.5,347.4 171.9,347.4 172.3,347.4 172.8,368.1 173.2,368.1 173.7,368.1 174.1,388.7 174.6,368.1 175.0,378.4 175.5,378.4 175.9,347.4 176.4,368.1 176.8,378.4 177.3,378.4 177.7,378.4 178.2,347.4 178.6,357.8 179.1,357.8 179.5,368.1 180.0,368.1 180.4,388.7 180.9,357.8 181.3,368.1 181.8,368.1 182.2,357.8 182.7,388.7 183.1,378.4 183.6,337.1 184.0,378.4 184.5,378.4 184.9,388.7 185.4,378.4 185.8,368.1 186.3,368.1 186.7,378.4 187.2,378.4 187.6,378.4 188.1,357.8 188.5,337.1 189.0,337.1 189.4,337.1 189.9,388.7 190.3,378.4 190.8,378.4 191.2,326.8 191.7,347.4 192.1,347.4 192.6,337.1 193.0,357.8 193.5,378.4 193.9,337.1 194.4,337.1 194.8,378.4 195.3,378.4 195.7,347.4 196.2,347.4 196.6,347.4 197.1,388.7 197.5,388.7 197.9,368.1 198.4,357.8 198.8,347.4 199.3,357.8 199.7,357.8 200.2,378.4 200.6,357.8 201.1,357.8 201.5,357.8 202.0,378.4 202.4,378.4 202.9,368.1 203.3,316.5 203.8,357.8 204.2,378.4 204.7,347.4 205.1,347.4 205.6,388.7 206.0,388.7 206.5,388.7 206.9,368.1 207.4,368.1 207.8,368.1 208.3,378.4 208.7,347.4 209.2,347.4 209.6,378.4 210.1,378.4 210.5,357.8 211.0,378.4 211.4,337.1 211.9,347.4 212.3,347.4 212.8,368.1 213.2,347.4 213.7,368.1 214.1,357.8 214.6,378.4 215.0,388.7 215.5,347.4 215.9,378.4 216.4,337.1 216.8,357.8 217.3,357.8 217.7,337.1 218.2,368.1 218.6,388.7 219.1,378.4 219.5,357.8 220.0,378.4 220.4,378.4 220.9,347.4 221.3,368.1 221.8,368.1 222.2,368.1 222.6,368.1 223.1,326.8 223.5,378.4 224.0,347.4 224.4,347.4 224.9,357.8 225.3,357.8 225.8,357.8 226.2,378.4 226.7,378.4 227.1,326.8 227.6,347.4 228.0,357.8 228.5,357.8 228.9,357.8 229.4,357.8 229.8,378.4 230.3,337.1 230.7,357.8 231.2,347.4 231.6,357.8 232.1,357.8 232.5,357.8 233.0,357.8 233.4,357.8 233.9,357.8 234.3,337.1 234.8,388.7 235.2,388.7 235.7,378.4 236.1,378.4 236.6,337.1 237.0,378.4 237.5,347.4 237.9,378.4 238.4,357.8 238.8,357.8 239.3,357.8 239.7,357.8 240.2,337.1 240.6,368.1 241.1,347.4 241.5,357.8 242.0,337.1 242.4,368.1 242.9,347.4 243.3,347.4 243.8,368.1 244.2,378.4 244.7,368.1 245.1,316.5 245.6,306.2 246.0,368.1 246.5,368.1 246.9,357.8"/>
<polyline stroke="#f22c2c" stroke-width="1.3" points="22.8,285.6 23.2,368.1 23.7,368.1 24.1,368.1 24.6,337.1 25.0,357.8 25.5,357.8 25.9,368.1 26.4,357.8 26.8,378.4 27.3,388.7 27.7,347.4 28.2,388.7 28.6,337.1 29.1,337.1 29.5,347.4 30.0,388.7 30.4,378.4 30.9,347.4 31.3,368.1 31.8,357.8 32.2,378.4 32.7,378.4 33.1,368.1 33.6,326.8 34.0,357.8 34.5,357.8 34.9,347.4 35.4,378.4 35.8,368.1 36.3,316.5 36.7,368.1 37.2,368.1 37.6,347.4 38.1,368.1 38.5,368.1 39.0,337.1 39.4,337.1 39.9,347.4 40.3,368.1 40.8,368.1 41.2,347.4 41.7,388.7 42.1,347.4 42.6,347.4 43.0,347.4 43.5,388.7 43.9,368.1 44.4,347.4 44.8,347.4 45.3,388.7 45.7,357.8 46.2,347.4 46.6,337.1 47.1,337.1 47.5,337.1 47.9,347.4 48.4,378.4 48.8,368.1 49.3,368.1 49.7,368.1 50.2,357.8 50.6,347.4 51.1,357.8 51.5,357.8 52.0,357.8 52.4,378.4 52.9,368.1 53.3,368.1 53.8,368.1 54.2,368.1 54.7,357.8 55.1,357.8 55.6,357.8 56.0,368.1 56.5,368.1 56.9,378.4 57.4,357.8 57.8,357.8 58.3,347.4 58.7,347.4 59.2,337.1 59.6,347.4 60.1,388.7 60.5,357.8 61.0,347.4 61.4,347.4 61.9,368.1 62.3,368.1 62.8,368.1 63.2,378.4 63.7,337.1 64.1,337.1 64.6,337.1 65.0,337.1 65.5,378.4 65.9,378.4 66.4,378.4 66.8,347.4 67.3,378.4 67.7,337.1 68.2,368.1 68.6,316.5 69.1,368.1 69.5,378.4 70.0,378.4 70.4,368.1 70.9,357.8 71.3,368.1 71.8,378.4 72.2,357.8 72.6,357.8 73.1,378.4 73.5,337.1 74.0,378.4 74.4,357.8 74.9,357.8 75.3,337.1 75.8,357.8 76.2,347.4 76.7,357.8 77.1,368.1 77.6,368.1 78.0,347.4 78.5,347.4 78.9,347.4 79.4,347.4 79.8,388.7 80.3,378.4 80.7,357.8 81.2,378.4 81.6,378.4 82.1,347.4 82.5,368.1 83.0,357.8 83.4,378.4 83.9,347.4 84.3,347.4 84.8,347.4 85.2,347.4 85.7,368.1 86.1,368.1 86.6,347.4 87.0,347.4 87.5,357.8 87.9,357.8 88.4,357.8 88.8,357.8 89.3,357.8 89.7,357.8 90.2,388.7 90.6,368.1 91.1,368.1 91.5,388.7 92.0,368.1 92.4,368.1 92.9,368.1 93.3,378.4 93.8,357.8 94.2,357.8 94.7,368.1 95.1,368.1 95.6,357.8 96.0,357.8 96.5,347.4 96.9,347.4 97.4,357.8 97.8,368.1 98.2,368.1 98.7,357.8 99.1,357.8 99.6,357.8 100.0,388.7 100.5,357.8 100.9,357.8 101.4,368.1 101.8,357.8 102.3,378.4 102.7,347.4 103.2,378.4 103.6,368.1 104.1,368.1 104.5,378.4 105.0,357.8 105.4,347.4 105.9,378.4 106.3,378.4 106.8,368.1 107.2,368.1 107.7,357.8 108.1,378.4 108.6,378.4 109.0,357.8 109.5,357.8 109.9,368.1 110.4,368.1 110.8,388.7 111.3,368.1 111.7,357.8 112.2,357.8 112.6,326.8 113.1,357.8 113.5,368.1 114.0,378.4 114.4,357.8 114.9,357.8 115.3,357.8 115.8,357.8 116.2,357.8 116.7,378.4 117.1,368.1 117.6,368.1 118.0,347.4 118.5,368.1 118.9,357.8 119.4,337.1 119.8,347.4 120.3,368.1 120.7,368.1 121.2,368.1 121.6,347.4 122.1,357.8 122.5,357.8 122.9,378.4 123.4,368.1 123.8,368.1 124.3,388.7 124.7,368.1 125.2,347.4 125.6,368.1 126.1,337.1 126.5,368.1 127.0,368.1 127.4,347.4 127.9,357.8 128.3,357.8 128.8,368.1 129.2,378.4 129.7,378.4 130.1,378.4 130.6,368.1 131.0,368.1 131.5,357.8 131.9,368.1 132.4,357.8 132.8,347.4 133.3,347.4 133.7,357.8 134.2,368.1 134.6,347.4 135.1,337.1 135.5,337.1 136.0,337.1 136.4,326.8 136.9,368.1 137.3,368.1 137.8,337.1 138.2,347.4 138.7,347.4 139.1,347.4 139.6,337.1 140.0,337.1 140.5,378.4 140.9,378.4 141.4,347.4 141.8,347.4 142.3,326.8 142.7,337.1 143.2,337.1 143.6,326.8 144.1,357.8 144.5,368.1 145.0,285.6 145.4,368.1 145.9,326.8 146.3,326.8 146.8,326.8 147.2,326.8 147.6,337.1 148.1,378.4 148.5,378.4 149.0,368.1 149.4,316.5 149.9,357.8 150.3,337.1 150.8,295.9 151.2,357.8 151.7,337.1 152.1,368.1 152.6,347.4 153.0,295.9 153.5,378.4 153.9,337.1 154.4,337.1 154.8,347.4 155.3,347.4 155.7,357.8 156.2,357.8 156.6,285.6 157.1,388.7 157.5,378.4 158.0,368.1 158.4,368.1 158.9,306.2 159.3,337.1 159.8,347.4 160.2,347.4 160.7,337.1 161.1,378.4 161.6,378.4 162.0,337.1 162.5,326.8 162.9,326.8 163.4,378.4 163.8,378.4 164.3,368.1 164.7,295.9 165.2,326.8 165.6,326.8 166.1,326.8 166.5,347.4 167.0,347.4 167.4,306.2 167.9,347.4 168.3,326.8 168.8,337.1 169.2,306.2 169.7,368.1 170.1,357.8 170.6,347.4 171.0,357.8 171.5,337.1 171.9,337.1 172.3,306.2 172.8,357.8 173.2,378.4 173.7,378.4 174.1,368.1 174.6,368.1 175.0,347.4 175.5,368.1 175.9,368.1 176.4,368.1 176.8,337.1 177.3,368.1 177.7,378.4 178.2,378.4 178.6,357.8 179.1,378.4 179.5,337.1 180.0,368.1 180.4,357.8 180.9,357.8 181.3,357.8 181.8,368.1 182.2,347.4 182.7,347.4 183.1,347.4 183.6,357.8 184.0,357.8 184.5,347.4 184.9,347.4 185.4,388.7 185.8,347.4 186.3,368.1 186.7,388.7 187.2,347.4 187.6,347.4 188.1,347.4 188.5,388.7 189.0,347.4 189.4,368.1 189.9,388.7 190.3,378.4 190.8,388.7 191.2,326.8 191.7,326.8 192.1,326.8 192.6,357.8 193.0,357.8 193.5,347.4 193.9,357.8 194.4,388.7 194.8,378.4 195.3,368.1 195.7,347.4 196.2,347.4 196.6,378.4 197.1,378.4 197.5,347.4 197.9,337.1 198.4,347.4 198.8,337.1 199.3,347.4 199.7,347.4 200.2,306.2 200.6,357.8 201.1,347.4 201.5,326.8 202.0,326.8 202.4,326.8 202.9,316.5 203.3,347.4 203.8,347.4 204.2,378.4 204.7,326.8 205.1,347.4 205.6,378.4 206.0,326.8 206.5,337.1 206.9,337.1 207.4,368.1 207.8,347.4 208.3,316.5 208.7,347.4 209.2,368.1 209.6,337.1 210.1,337.1 210.5,347.4 211.0,347.4 211.4,347.4 211.9,337.1 212.3,347.4 212.8,357.8 213.2,264.9 213.7,337.1 214.1,347.4 214.6,347.4 215.0,368.1 215.5,347.4 215.9,337.1 216.4,337.1 216.8,337.1 217.3,326.8 217.7,347.4 218.2,326.8 218.6,337.1 219.1,337.1 219.5,357.8 220.0,368.1 220.4,337.1 220.9,306.2 221.3,337.1 221.8,388.7 222.2,357.8 222.6,347.4 223.1,337.1 223.5,357.8 224.0,326.8 224.4,326.8 224.9,337.1 225.3,316.5 225.8,347.4 226.2,326.8 226.7,347.4 227.1,347.4 227.6,347.4 228.0,368.1 228.5,326.8 228.9,254.6 229.4,337.1 229.8,337.1 230.3,337.1 230.7,357.8 231.2,326.8 231.6,357.8 232.1,357.8 232.5,357.8 233.0,347.4 233.4,347.4 233.9,357.8 234.3,326.8 234.8,326.8 235.2,347.4 235.7,295.9 236.1,326.8 236.6,326.8 237.0,357.8 237.5,378.4 237.9,326.8 238.4,326.8 238.8,347.4 239.3,347.4 239.7,337.1 240.2,337.1 240.6,357.8 241.1,316.5 241.5,357.8 242.0,357.8 242.4,388.7 242.9,388.7 243.3,347.4 243.8,326.8 244.2,326.8 244.7,357.8 245.1,326.8 245.6,295.9 246.0,357.8 246.5,326.8 246.9,337.1"/>
</g>
<rect x="22.8" y="223.7" width="224.1" height="165.0" fill="none" stroke="#333" stroke-width="1.3"/>
<path d="M22.8,388.7h3M22.8,368.1h1.6M22.8,347.4h3M22.8,326.8h1.6M22.8,306.2h3M22.8,285.6h1.6M22.8,264.9h3M22.8,244.3h1.6M22.8,223.7h3M22.8,388.7v-3M45.2,388.7v-1.6M67.6,388.7v-3M90.0,388.7v-1.6M112.4,388.7v-3M134.8,388.7v-1.6M157.3,388.7v-3M179.7,388.7v-1.6M202.1,388.7v-3M224.5,388.7v-1.6M246.9,388.7v-3" stroke="#333" stroke-width="1" fill="none"/>
<text x="21.0" y="351.6" text-anchor="end" class="tk">1</text>
<text x="21.0" y="310.3" text-anchor="end" class="tk">2</text>
<text x="21.0" y="269.1" text-anchor="end" class="tk">3</text>
<text x="21.0" y="227.8" text-anchor="end" class="tk">4</text>
<text x="24.7" y="402.2" text-anchor="middle" class="tk">0</text>
<text x="69.5" y="402.2" text-anchor="middle" class="tk">100</text>
<text x="114.3" y="402.2" text-anchor="middle" class="tk">200</text>
<text x="159.2" y="402.2" text-anchor="middle" class="tk">300</text>
<text x="204.0" y="402.2" text-anchor="middle" class="tk">400</text>
<text x="248.8" y="402.2" text-anchor="middle" class="tk">500</text>
<path d="M110.7,232.2H135.8" stroke="#3d3d3d" stroke-width="1.5"/>
<path d="M110.7,245.5H135.8" stroke="#f22c2c" stroke-width="1.5"/>
<text x="139.8" y="236.6" class="lg lgb" textLength="100.4" lengthAdjust="spacingAndGlyphs">DV3p-Weld-E-Xaxis</text>
<text x="139.8" y="250.3" class="lg lgb" textLength="100.4" lengthAdjust="spacingAndGlyphs">DV3p-Weld-E-Yaxis</text>
<text transform="translate(11.2,301.5) rotate(-90)" text-anchor="middle" class="lab">Error/pixels</text>
<text x="144.2" y="411.5" text-anchor="middle" class="lab">Image/pcs</text>
<clipPath id="clipd"><rect x="314.0" y="222.8" width="224.0" height="165.7"/></clipPath>
<g clip-path="url(#clipd)" fill="none" stroke-linejoin="miter">
<polyline stroke="#3d3d3d" stroke-width="1.3" points="314.0,265.0 314.4,306.1 314.9,347.3 315.3,388.5 315.8,388.5 316.2,347.3 316.7,388.5 317.1,347.3 317.6,347.3 318.0,367.9 318.5,388.5 318.9,388.5 319.4,388.5 319.8,388.5 320.3,367.9 320.7,367.9 321.2,306.1 321.6,326.7 322.1,367.9 322.5,326.7 323.0,388.5 323.4,388.5 323.9,367.9 324.3,388.5 324.8,388.5 325.2,367.9 325.7,367.9 326.1,347.3 326.6,367.9 327.0,367.9 327.5,367.9 327.9,388.5 328.4,388.5 328.8,388.5 329.3,367.9 329.7,388.5 330.2,388.5 330.6,388.5 331.1,347.3 331.5,388.5 332.0,388.5 332.4,347.3 332.9,367.9 333.3,347.3 333.8,367.9 334.2,347.3 334.6,388.5 335.1,367.9 335.5,367.9 336.0,347.3 336.4,388.5 336.9,367.9 337.3,388.5 337.8,388.5 338.2,388.5 338.7,388.5 339.1,347.3 339.6,388.5 340.0,388.5 340.5,367.9 340.9,367.9 341.4,367.9 341.8,367.9 342.3,388.5 342.7,367.9 343.2,388.5 343.6,367.9 344.1,388.5 344.5,326.7 345.0,388.5 345.4,367.9 345.9,388.5 346.3,347.3 346.8,367.9 347.2,388.5 347.7,347.3 348.1,347.3 348.6,347.3 349.0,367.9 349.5,388.5 349.9,388.5 350.4,326.7 350.8,367.9 351.3,388.5 351.7,347.3 352.2,347.3 352.6,367.9 353.1,388.5 353.5,367.9 354.0,388.5 354.4,388.5 354.8,347.3 355.3,367.9 355.7,367.9 356.2,388.5 356.6,347.3 357.1,388.5 357.5,388.5 358.0,388.5 358.4,388.5 358.9,326.7 359.3,367.9 359.8,367.9 360.2,367.9 360.7,367.9 361.1,388.5 361.6,367.9 362.0,367.9 362.5,388.5 362.9,367.9 363.4,347.3 363.8,347.3 364.3,388.5 364.7,326.7 365.2,388.5 365.6,388.5 366.1,347.3 366.5,388.5 367.0,367.9 367.4,347.3 367.9,388.5 368.3,367.9 368.8,347.3 369.2,367.9 369.7,347.3 370.1,388.5 370.6,388.5 371.0,388.5 371.5,388.5 371.9,388.5 372.4,388.5 372.8,367.9 373.3,388.5 373.7,388.5 374.2,326.7 374.6,367.9 375.1,326.7 375.5,367.9 375.9,367.9 376.4,347.3 376.8,347.3 377.3,367.9 377.7,367.9 378.2,347.3 378.6,367.9 379.1,326.7 379.5,388.5 380.0,367.9 380.4,367.9 380.9,367.9 381.3,388.5 381.8,347.3 382.2,367.9 382.7,347.3 383.1,367.9 383.6,326.7 384.0,388.5 384.5,388.5 384.9,388.5 385.4,388.5 385.8,388.5 386.3,347.3 386.7,347.3 387.2,388.5 387.6,388.5 388.1,367.9 388.5,367.9 389.0,367.9 389.4,388.5 389.9,326.7 390.3,367.9 390.8,367.9 391.2,367.9 391.7,388.5 392.1,388.5 392.6,367.9 393.0,347.3 393.5,347.3 393.9,347.3 394.4,388.5 394.8,347.3 395.3,347.3 395.7,347.3 396.1,367.9 396.6,347.3 397.0,347.3 397.5,388.5 397.9,388.5 398.4,388.5 398.8,388.5 399.3,388.5 399.7,367.9 400.2,367.9 400.6,367.9 401.1,388.5 401.5,388.5 402.0,388.5 402.4,388.5 402.9,326.7 403.3,367.9 403.8,347.3 404.2,367.9 404.7,367.9 405.1,388.5 405.6,367.9 406.0,388.5 406.5,347.3 406.9,326.7 407.4,347.3 407.8,388.5 408.3,388.5 408.7,388.5 409.2,388.5 409.6,367.9 410.1,347.3 410.5,388.5 411.0,347.3 411.4,347.3 411.9,388.5 412.3,347.3 412.8,347.3 413.2,388.5 413.7,367.9 414.1,367.9 414.6,367.9 415.0,388.5 415.5,367.9 415.9,367.9 416.3,347.3 416.8,347.3 417.2,388.5 417.7,347.3 418.1,347.3 418.6,347.3 419.0,347.3 419.5,388.5 419.9,367.9 420.4,388.5 420.8,367.9 421.3,326.7 421.7,388.5 422.2,388.5 422.6,367.9 423.1,367.9 423.5,388.5 424.0,388.5 424.4,388.5 424.9,367.9 425.3,367.9 425.8,388.5 426.2,388.5 426.7,367.9 427.1,388.5 427.6,388.5 428.0,388.5 428.5,367.9 428.9,388.5 429.4,388.5 429.8,367.9 430.3,388.5 430.7,388.5 431.2,347.3 431.6,388.5 432.1,388.5 432.5,388.5 433.0,388.5 433.4,347.3 433.9,388.5 434.3,388.5 434.8,347.3 435.2,367.9 435.7,388.5 436.1,367.9 436.5,347.3 437.0,388.5 437.4,347.3 437.9,388.5 438.3,347.3 438.8,347.3 439.2,347.3 439.7,367.9 440.1,388.5 440.6,388.5 441.0,367.9 441.5,347.3 441.9,388.5 442.4,388.5 442.8,367.9 443.3,347.3 443.7,347.3 444.2,388.5 444.6,388.5 445.1,388.5 445.5,367.9 446.0,347.3 446.4,347.3 446.9,326.7 447.3,347.3 447.8,347.3 448.2,388.5 448.7,367.9 449.1,388.5 449.6,347.3 450.0,347.3 450.5,347.3 450.9,367.9 451.4,388.5 451.8,367.9 452.3,388.5 452.7,347.3 453.2,367.9 453.6,388.5 454.1,367.9 454.5,347.3 455.0,388.5 455.4,347.3 455.9,347.3 456.3,388.5 456.7,388.5 457.2,347.3 457.6,326.7 458.1,388.5 458.5,388.5 459.0,347.3 459.4,326.7 459.9,388.5 460.3,388.5 460.8,326.7 461.2,388.5 461.7,388.5 462.1,367.9 462.6,367.9 463.0,347.3 463.5,388.5 463.9,285.6 464.4,388.5 464.8,347.3 465.3,388.5 465.7,367.9 466.2,388.5 466.6,388.5 467.1,388.5 467.5,347.3 468.0,367.9 468.4,388.5 468.9,326.7 469.3,347.3 469.8,347.3 470.2,388.5 470.7,388.5 471.1,388.5 471.6,388.5 472.0,388.5 472.5,367.9 472.9,388.5 473.4,388.5 473.8,347.3 474.3,367.9 474.7,388.5 475.2,367.9 475.6,367.9 476.1,367.9 476.5,388.5 476.9,367.9 477.4,367.9 477.8,367.9 478.3,367.9 478.7,367.9 479.2,347.3 479.6,347.3 480.1,388.5 480.5,388.5 481.0,388.5 481.4,388.5 481.9,388.5 482.3,326.7 482.8,388.5 483.2,367.9 483.7,367.9 484.1,347.3 484.6,388.5 485.0,388.5 485.5,367.9 485.9,367.9 486.4,388.5 486.8,388.5 487.3,347.3 487.7,347.3 488.2,347.3 488.6,347.3 489.1,347.3 489.5,347.3 490.0,367.9 490.4,347.3 490.9,388.5 491.3,388.5 491.8,347.3 492.2,388.5 492.7,347.3 493.1,367.9 493.6,388.5 494.0,326.7 494.5,388.5 494.9,367.9 495.4,388.5 495.8,326.7 496.3,367.9 496.7,367.9 497.2,388.5 497.6,388.5 498.0,347.3 498.5,367.9 498.9,326.7 499.4,367.9 499.8,367.9 500.3,367.9 500.7,367.9 501.2,388.5 501.6,367.9 502.1,388.5 502.5,367.9 503.0,347.3 503.4,388.5 503.9,347.3 504.3,347.3 504.8,326.7 505.2,367.9 505.7,367.9 506.1,347.3 506.6,367.9 507.0,347.3 507.5,388.5 507.9,367.9 508.4,367.9 508.8,326.7 509.3,306.1 509.7,326.7 510.2,367.9 510.6,367.9 511.1,367.9 511.5,367.9 512.0,388.5 512.4,388.5 512.9,347.3 513.3,388.5 513.8,367.9 514.2,347.3 514.7,347.3 515.1,367.9 515.6,347.3 516.0,367.9 516.5,367.9 516.9,347.3 517.4,367.9 517.8,367.9 518.2,367.9 518.7,367.9 519.1,388.5 519.6,347.3 520.0,388.5 520.5,388.5 520.9,347.3 521.4,367.9 521.8,367.9 522.3,347.3 522.7,347.3 523.2,347.3 523.6,347.3 524.1,367.9 524.5,347.3 525.0,388.5 525.4,388.5 525.9,347.3 526.3,367.9 526.8,367.9 527.2,306.1 527.7,367.9 528.1,367.9 528.6,367.9 529.0,388.5 529.5,388.5 529.9,388.5 530.4,367.9 530.8,326.7 531.3,326.7 531.7,367.9 532.2,388.5 532.6,367.9 533.1,326.7 533.5,326.7 534.0,285.6 534.4,388.5 534.9,388.5 535.3,367.9 535.8,367.9 536.2,388.5 536.7,347.3 537.1,388.5 537.6,367.9 538.0,388.5"/>
<polyline stroke="#f22c2c" stroke-width="1.3" points="314.0,265.0 314.4,265.0 314.9,265.0 315.3,265.0 315.8,265.0 316.2,306.1 316.7,326.7 317.1,367.9 317.6,367.9 318.0,347.3 318.5,367.9 318.9,367.9 319.4,367.9 319.8,367.9 320.3,326.7 320.7,347.3 321.2,367.9 321.6,306.1 322.1,347.3 322.5,347.3 323.0,347.3 323.4,347.3 323.9,367.9 324.3,367.9 324.8,388.5 325.2,367.9 325.7,367.9 326.1,367.9 326.6,367.9 327.0,367.9 327.5,347.3 327.9,367.9 328.4,367.9 328.8,367.9 329.3,388.5 329.7,367.9 330.2,367.9 330.6,367.9 331.1,367.9 331.5,388.5 332.0,326.7 332.4,347.3 332.9,326.7 333.3,367.9 333.8,367.9 334.2,347.3 334.6,347.3 335.1,367.9 335.5,347.3 336.0,367.9 336.4,347.3 336.9,347.3 337.3,347.3 337.8,347.3 338.2,367.9 338.7,347.3 339.1,388.5 339.6,347.3 340.0,347.3 340.5,367.9 340.9,367.9 341.4,388.5 341.8,367.9 342.3,367.9 342.7,347.3 343.2,347.3 343.6,347.3 344.1,367.9 344.5,367.9 345.0,326.7 345.4,347.3 345.9,347.3 346.3,347.3 346.8,367.9 347.2,367.9 347.7,306.1 348.1,367.9 348.6,367.9 349.0,347.3 349.5,326.7 349.9,347.3 350.4,367.9 350.8,367.9 351.3,367.9 351.7,326.7 352.2,347.3 352.6,367.9 353.1,347.3 353.5,367.9 354.0,367.9 354.4,367.9 354.8,367.9 355.3,367.9 355.7,347.3 356.2,326.7 356.6,347.3 357.1,347.3 357.5,347.3 358.0,347.3 358.4,388.5 358.9,326.7 359.3,347.3 359.8,326.7 360.2,367.9 360.7,388.5 361.1,347.3 361.6,347.3 362.0,326.7 362.5,347.3 362.9,306.1 363.4,388.5 363.8,367.9 364.3,367.9 364.7,326.7 365.2,347.3 365.6,326.7 366.1,347.3 366.5,347.3 367.0,347.3 367.4,367.9 367.9,347.3 368.3,326.7 368.8,306.1 369.2,367.9 369.7,388.5 370.1,388.5 370.6,347.3 371.0,388.5 371.5,347.3 371.9,347.3 372.4,347.3 372.8,347.3 373.3,347.3 373.7,326.7 374.2,326.7 374.6,388.5 375.1,388.5 375.5,388.5 375.9,326.7 376.4,326.7 376.8,326.7 377.3,367.9 377.7,347.3 378.2,367.9 378.6,326.7 379.1,347.3 379.5,326.7 380.0,326.7 380.4,326.7 380.9,367.9 381.3,367.9 381.8,347.3 382.2,347.3 382.7,347.3 383.1,367.9 383.6,367.9 384.0,326.7 384.5,367.9 384.9,367.9 385.4,347.3 385.8,367.9 386.3,367.9 386.7,367.9 387.2,347.3 387.6,367.9 388.1,326.7 388.5,326.7 389.0,347.3 389.4,347.3 389.9,388.5 390.3,388.5 390.8,326.7 391.2,367.9 391.7,367.9 392.1,326.7 392.6,347.3 393.0,326.7 393.5,326.7 393.9,347.3 394.4,388.5 394.8,347.3 395.3,367.9 395.7,367.9 396.1,347.3 396.6,347.3 397.0,347.3 397.5,347.3 397.9,347.3 398.4,326.7 398.8,347.3 399.3,326.7 399.7,347.3 400.2,347.3 400.6,347.3 401.1,347.3 401.5,347.3 402.0,326.7 402.4,388.5 402.9,388.5 403.3,388.5 403.8,326.7 404.2,326.7 404.7,388.5 405.1,388.5 405.6,367.9 406.0,347.3 406.5,367.9 406.9,367.9 407.4,326.7 407.8,326.7 408.3,347.3 408.7,326.7 409.2,326.7 409.6,326.7 410.1,388.5 410.5,367.9 411.0,306.1 411.4,306.1 411.9,347.3 412.3,347.3 412.8,347.3 413.2,347.3 413.7,347.3 414.1,326.7 414.6,388.5 415.0,367.9 415.5,347.3 415.9,326.7 416.3,326.7 416.8,347.3 417.2,347.3 417.7,347.3 418.1,347.3 418.6,347.3 419.0,347.3 419.5,388.5 419.9,367.9 420.4,367.9 420.8,388.5 421.3,326.7 421.7,347.3 422.2,347.3 422.6,347.3 423.1,326.7 423.5,347.3 424.0,367.9 424.4,347.3 424.9,367.9 425.3,326.7 425.8,285.6 426.2,367.9 426.7,388.5 427.1,326.7 427.6,347.3 428.0,326.7 428.5,367.9 428.9,367.9 429.4,265.0 429.8,388.5 430.3,388.5 430.7,326.7 431.2,326.7 431.6,347.3 432.1,367.9 432.5,388.5 433.0,347.3 433.4,326.7 433.9,326.7 434.3,347.3 434.8,367.9 435.2,367.9 435.7,326.7 436.1,326.7 436.5,347.3 437.0,306.1 437.4,306.1 437.9,388.5 438.3,388.5 438.8,326.7 439.2,326.7 439.7,347.3 440.1,367.9 440.6,347.3 441.0,347.3 441.5,367.9 441.9,326.7 442.4,367.9 442.8,367.9 443.3,388.5 443.7,347.3 444.2,347.3 444.6,347.3 445.1,347.3 445.5,347.3 446.0,326.7 446.4,326.7 446.9,347.3 447.3,367.9 447.8,326.7 448.2,347.3 448.7,326.7 449.1,367.9 449.6,367.9 450.0,367.9 450.5,367.9 450.9,367.9 451.4,367.9 451.8,367.9 452.3,367.9 452.7,388.5 453.2,367.9 453.6,367.9 454.1,367.9 454.5,347.3 455.0,347.3 455.4,326.7 455.9,326.7 456.3,326.7 456.7,367.9 457.2,367.9 457.6,367.9 458.1,347.3 458.5,347.3 459.0,347.3 459.4,347.3 459.9,347.3 460.3,347.3 460.8,347.3 461.2,367.9 461.7,347.3 462.1,326.7 462.6,367.9 463.0,367.9 463.5,347.3 463.9,367.9 464.4,347.3 464.8,326.7 465.3,367.9 465.7,347.3 466.2,347.3 466.6,367.9 467.1,367.9 467.5,367.9 468.0,388.5 468.4,367.9 468.9,306.1 469.3,367.9 469.8,265.0 470.2,347.3 470.7,326.7 471.1,347.3 471.6,347.3 472.0,347.3 472.5,367.9 472.9,367.9 473.4,306.1 473.8,367.9 474.3,367.9 474.7,367.9 475.2,285.6 475.6,367.9 476.1,367.9 476.5,367.9 476.9,388.5 477.4,388.5 477.8,347.3 478.3,388.5 478.7,347.3 479.2,347.3 479.6,326.7 480.1,347.3 480.5,326.7 481.0,347.3 481.4,347.3 481.9,347.3 482.3,347.3 482.8,367.9 483.2,367.9 483.7,347.3 484.1,347.3 484.6,326.7 485.0,347.3 485.5,347.3 485.9,347.3 486.4,347.3 486.8,347.3 487.3,347.3 487.7,367.9 488.2,347.3 488.6,347.3 489.1,326.7 489.5,326.7 490.0,367.9 490.4,367.9 490.9,367.9 491.3,347.3 491.8,347.3 492.2,326.7 492.7,326.7 493.1,326.7 493.6,306.1 494.0,388.5 494.5,326.7 494.9,326.7 495.4,326.7 495.8,326.7 496.3,347.3 496.7,326.7 497.2,388.5 497.6,388.5 498.0,326.7 498.5,306.1 498.9,347.3 499.4,388.5 499.8,367.9 500.3,367.9 500.7,347.3 501.2,326.7 501.6,347.3 502.1,347.3 502.5,347.3 503.0,388.5 503.4,388.5 503.9,347.3 504.3,367.9 504.8,388.5 505.2,326.7 505.7,347.3 506.1,347.3 506.6,347.3 507.0,347.3 507.5,347.3 507.9,347.3 508.4,367.9 508.8,367.9 509.3,367.9 509.7,326.7 510.2,326.7 510.6,347.3 511.1,388.5 511.5,347.3 512.0,367.9 512.4,326.7 512.9,388.5 513.3,388.5 513.8,388.5 514.2,388.5 514.7,367.9 515.1,347.3 515.6,347.3 516.0,347.3 516.5,326.7 516.9,388.5 517.4,347.3 517.8,347.3 518.2,367.9 518.7,388.5 519.1,367.9 519.6,306.1 520.0,326.7 520.5,326.7 520.9,347.3 521.4,367.9 521.8,388.5 522.3,388.5 522.7,347.3 523.2,347.3 523.6,326.7 524.1,347.3 524.5,326.7 525.0,367.9 525.4,326.7 525.9,326.7 526.3,367.9 526.8,326.7 527.2,347.3 527.7,347.3 528.1,347.3 528.6,347.3 529.0,388.5 529.5,326.7 529.9,367.9 530.4,326.7 530.8,367.9 531.3,347.3 531.7,367.9 532.2,347.3 532.6,347.3 533.1,347.3 533.5,367.9 534.0,326.7 534.4,326.7 534.9,326.7 535.3,306.1 535.8,347.3 536.2,347.3 536.7,367.9 537.1,347.3 537.6,347.3 538.0,347.3"/>
</g>
<rect x="314.0" y="223.8" width="224.0" height="164.7" fill="none" stroke="#333" stroke-width="1.3"/>
<path d="M314.0,388.5h3M314.0,367.9h1.6M314.0,347.3h3M314.0,326.7h1.6M314.0,306.1h3M314.0,285.6h1.6M314.0,265.0h3M314.0,244.4h1.6M314.0,223.8h3M314.0,388.5v-3M336.4,388.5v-1.6M358.8,388.5v-3M381.2,388.5v-1.6M403.6,388.5v-3M426.0,388.5v-1.6M448.4,388.5v-3M470.8,388.5v-1.6M493.2,388.5v-3M515.6,388.5v-1.6M538.0,388.5v-3" stroke="#333" stroke-width="1" fill="none"/>
<text x="312.2" y="351.4" text-anchor="end" class="tk">1</text>
<text x="312.2" y="310.2" text-anchor="end" class="tk">2</text>
<text x="312.2" y="269.1" text-anchor="end" class="tk">3</text>
<text x="312.2" y="227.9" text-anchor="end" class="tk">4</text>
<text x="315.9" y="402.2" text-anchor="middle" class="tk">0</text>
<text x="360.7" y="402.2" text-anchor="middle" class="tk">100</text>
<text x="405.5" y="402.2" text-anchor="middle" class="tk">200</text>
<text x="450.3" y="402.2" text-anchor="middle" class="tk">300</text>
<text x="495.1" y="402.2" text-anchor="middle" class="tk">400</text>
<text x="539.9" y="402.2" text-anchor="middle" class="tk">500</text>
<path d="M407.1,231.9H431.9" stroke="#3d3d3d" stroke-width="1.5"/>
<path d="M407.1,245.3H431.9" stroke="#f22c2c" stroke-width="1.5"/>
<text x="433.0" y="236.3" class="lg lgd" textLength="103.6" lengthAdjust="spacingAndGlyphs">DV3p-Weld-E-X axis</text>
<text x="433.0" y="250.0" class="lg lgd" textLength="103.6" lengthAdjust="spacingAndGlyphs">DV3p-Weld-E-Y axis</text>
<text transform="translate(300.8,301.6) rotate(-90)" text-anchor="middle" class="lab">Error/pixels</text>
<text x="434.5" y="411.8" text-anchor="middle" class="lab">Image/pcs</text>
<text x="24.5" y="212.2" class="cap" textLength="12.5" lengthAdjust="spacing"><tspan font-size="11px">(</tspan><tspan font-weight="bold">a</tspan><tspan font-size="11px">)</tspan></text>
<text x="40.199999999999996" y="212.2" class="cap" textLength="196.7" lengthAdjust="spacing">Feature point error diagram of butt weld.</text>
<text x="312.6" y="213.2" class="cap" textLength="13.1" lengthAdjust="spacing"><tspan font-size="11px">(</tspan><tspan font-weight="bold">b</tspan><tspan font-size="11px">)</tspan></text>
<text x="329.3" y="213.2" class="cap" textLength="197.5" lengthAdjust="spacing">Feature point error diagram of fillet weld.</text>
<text x="27.3" y="429.3" class="cap" textLength="11.8" lengthAdjust="spacing"><tspan font-size="11px">(</tspan><tspan font-weight="bold">c</tspan><tspan font-size="11px">)</tspan></text>
<text x="42.5" y="429.3" class="cap" textLength="191.4" lengthAdjust="spacing">Feature point error diagram of lap weld.</text>
<text x="306.6" y="429.3" class="cap" textLength="13.6" lengthAdjust="spacing"><tspan font-size="11px">(</tspan><tspan font-weight="bold">d</tspan><tspan font-size="11px">)</tspan></text>
<text x="323.3" y="429.3" class="cap" textLength="210.6" lengthAdjust="spacing">Feature point error diagram of groove weld.</text>
</g>
</svg>
</body></html>
